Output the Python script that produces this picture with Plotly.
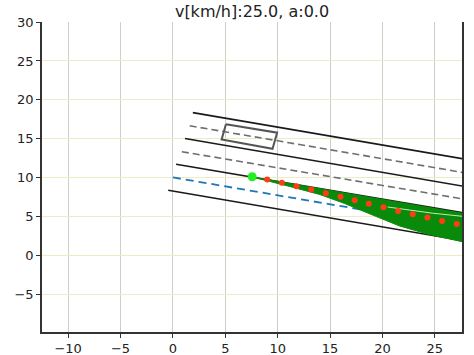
import plotly.graph_objects as go

# ---- data ----
title_text = "v[km/h]:25.0, a:0.0"

x_ticks = [-10, -5, 0, 5, 10, 15, 20, 25]
y_ticks = [-5, 0, 5, 10, 15, 20, 25, 30]
x_range = [-12.5, 27.6]
y_range = [-9.8, 30]

# road boundary lines (solid): start x/y and end x/y
solid_x0 = [1.9, 1.15, 0.3, -0.45]
solid_y0 = [18.36, 15.04, 11.73, 8.40]
solid_x1 = [28.0, 28.0, 28.0, 28.0]
solid_y1 = [12.36, 8.86, 5.43, 1.86]

# lane centre lines (gray dashed)
center_x0 = [1.6, 0.85]
center_y0 = [16.68, 13.35]
center_x1 = [28.0, 28.0]
center_y1 = [10.61, 7.21]

# reference path (blue dashed)
ref_x = [0.0, 28.0]
ref_y = [10.05, 3.61]

# obstacle vehicle outline
obstacle_x = [5.06, 9.95, 9.51, 4.65, 5.06]
obstacle_y = [16.86, 15.79, 13.73, 14.93, 16.86]

# candidate trajectory fan (green)
fan_upper_x = [7.57, 27.6]
fan_upper_y = [10.10, 5.45]
fan_lower_x = [7.57, 11.16, 14.03, 16.41, 18.13, 19.75, 21.66, 24.52, 27.6]
fan_lower_y = [10.10, 8.88, 7.85, 6.69, 5.73, 4.89, 3.80, 2.70, 1.80]

# a lighter trajectory inside the fan
light_x = [20.5, 24.8, 27.6]
light_y = [6.25, 5.45, 5.06]

# ego position
ego_x = [7.57]
ego_y = [10.13]

# optimal trajectory points (red)
opt_x = [9.0, 10.4, 11.8, 13.2, 14.6, 16.0, 17.35, 18.7, 20.1, 21.5, 22.9, 24.3, 25.7, 27.1]
opt_y = [9.78, 9.35, 8.92, 8.49, 8.02, 7.55, 7.12, 6.65, 6.22, 5.75, 5.32, 4.89, 4.45, 4.05]

fig = go.Figure()

for x0, y0, x1, y1 in zip(solid_x0, solid_y0, solid_x1, solid_y1):
    fig.add_trace(go.Scatter(x=[x0, x1], y=[y0, y1], mode="lines",
                             line=dict(color="#1a1a1a", width=1.6),
                             showlegend=False, hoverinfo="skip"))

for x0, y0, x1, y1 in zip(center_x0, center_y0, center_x1, center_y1):
    fig.add_trace(go.Scatter(x=[x0, x1], y=[y0, y1], mode="lines",
                             line=dict(color="#6e6e6e", width=1.6, dash="7px,4px"),
                             showlegend=False, hoverinfo="skip"))

fig.add_trace(go.Scatter(x=ref_x, y=ref_y, mode="lines",
                         line=dict(color="#1f77b4", width=1.8, dash="8px,5px"),
                         showlegend=False, hoverinfo="skip"))

fig.add_trace(go.Scatter(x=obstacle_x, y=obstacle_y, mode="lines",
                         line=dict(color="#555555", width=2),
                         showlegend=False, hoverinfo="skip"))

fan_x = fan_upper_x + fan_lower_x[::-1]
fan_y = fan_upper_y + fan_lower_y[::-1]
fig.add_trace(go.Scatter(x=fan_x, y=fan_y, mode="lines", fill="toself",
                         fillcolor="#0a8a0a", line=dict(color="#0a8a0a", width=1),
                         showlegend=False, hoverinfo="skip"))

fig.add_trace(go.Scatter(x=light_x, y=light_y, mode="lines",
                         line=dict(color="#b8f0b0", width=1),
                         showlegend=False, hoverinfo="skip"))

fig.add_trace(go.Scatter(x=opt_x, y=opt_y, mode="markers",
                         marker=dict(color="#ff3c14", size=6),
                         showlegend=False, hoverinfo="skip"))

fig.add_trace(go.Scatter(x=ego_x, y=ego_y, mode="markers",
                         marker=dict(color="#22ee22", size=9),
                         showlegend=False, hoverinfo="skip"))

fig.update_layout(
    width=474, height=355,
    margin=dict(l=42, r=12, t=22, b=23, autoexpand=False),
    paper_bgcolor="white", plot_bgcolor="white",
    font=dict(family="DejaVu Sans", color="#222222", size=13),
    title=dict(text=title_text, x=0.5, xref="paper", xanchor="center",
               y=1 - 11 / 355, yref="container", yanchor="middle",
               font=dict(size=16, family="DejaVu Sans", color="#222222")),
    xaxis=dict(range=x_range, tickvals=x_ticks, showgrid=True, automargin=False,
               gridcolor="#cfcfc4", gridwidth=1, zeroline=False,
               showline=True, linecolor="#333333", linewidth=1.5, mirror=False,
               ticks="outside", ticklen=4, tickcolor="#333333"),
    yaxis=dict(range=y_range, tickvals=y_ticks, showgrid=True, automargin=False,
               gridcolor="#ecebc8", gridwidth=1, zeroline=False,
               showline=True, linecolor="#333333", linewidth=1.5, mirror=True,
               ticks="outside", ticklen=4, tickcolor="#333333"),
)

fig.write_html("out.html")
